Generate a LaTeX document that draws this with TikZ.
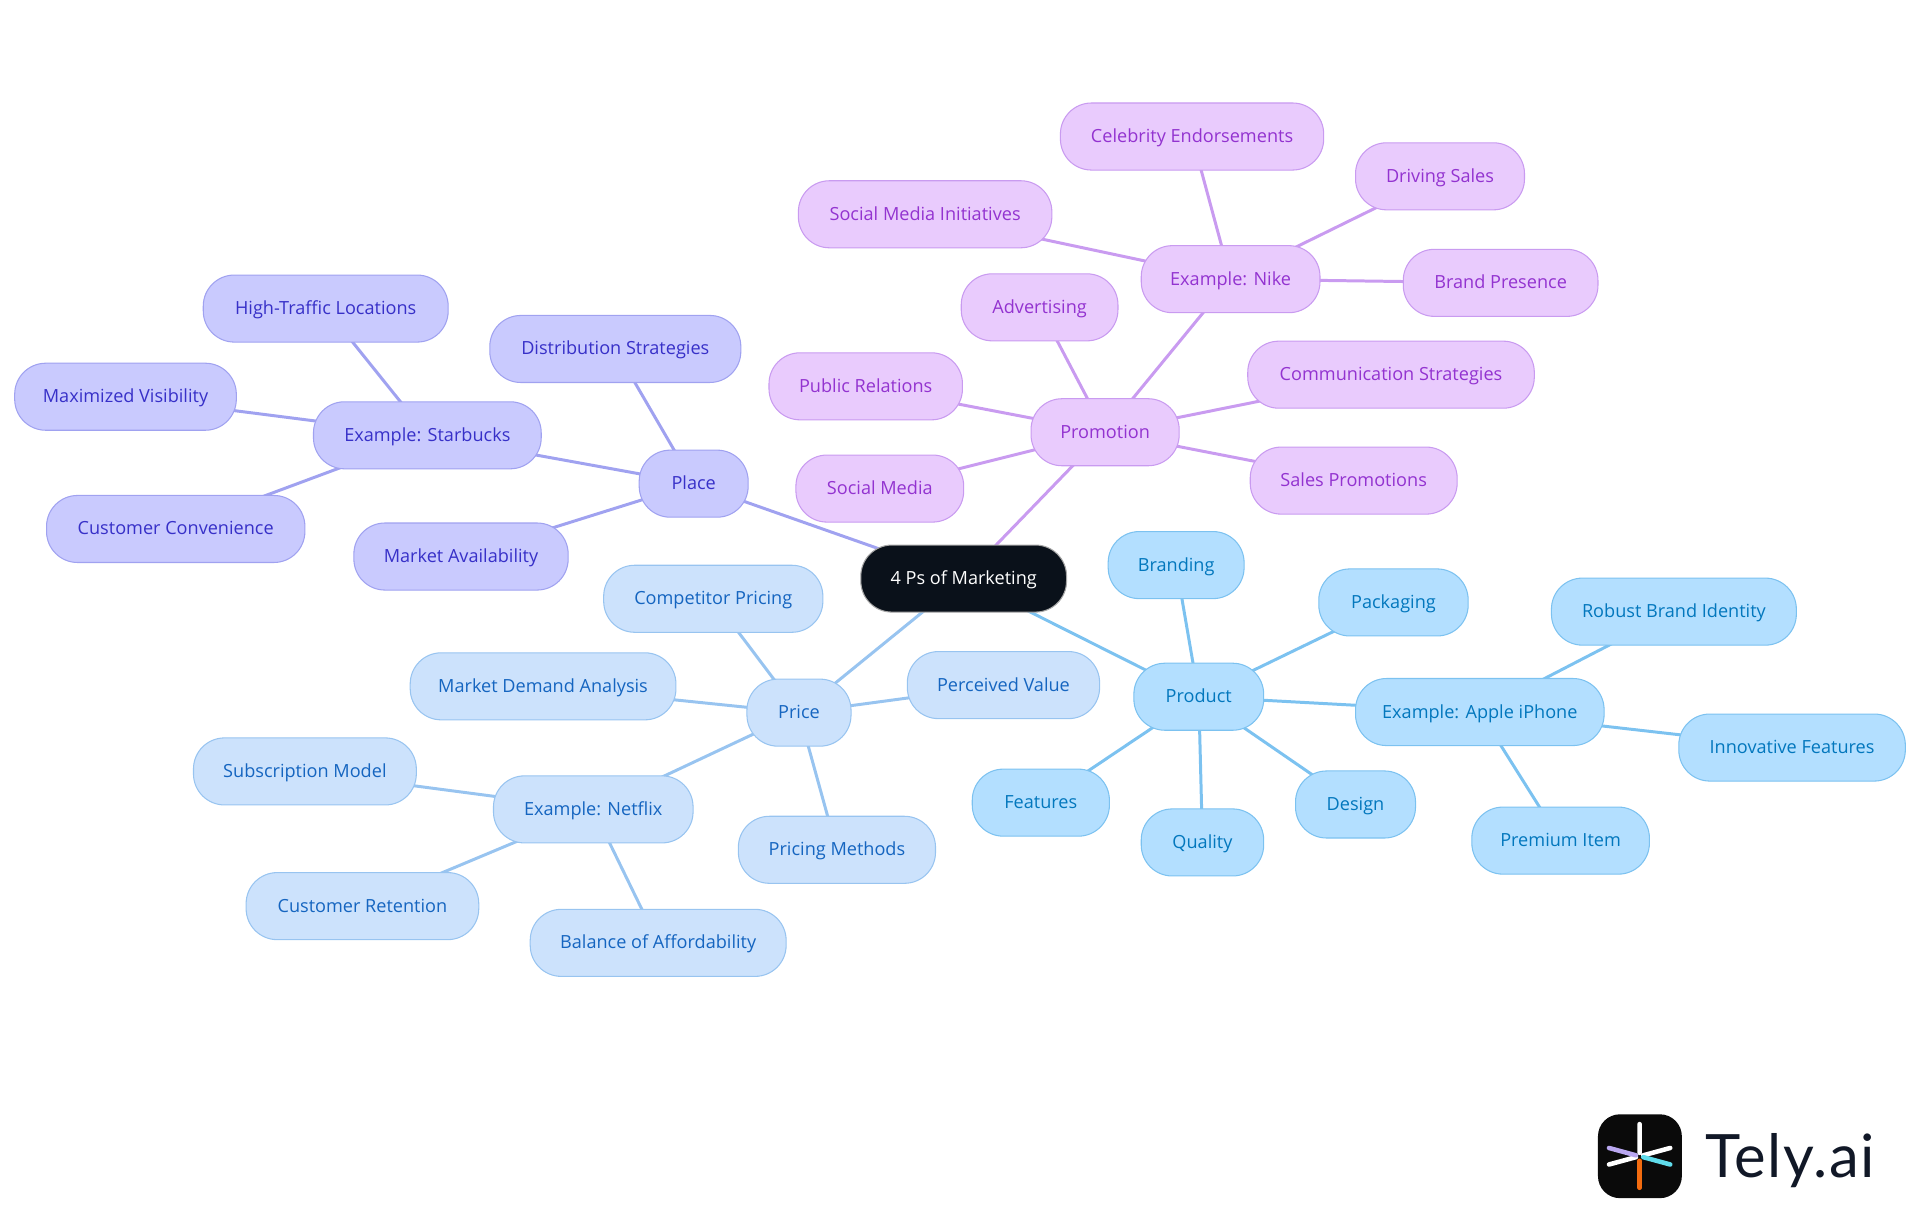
\documentclass[tikz,border=0pt]{standalone}
\usepackage{fontspec}
\setmainfont{Open Sans}
\newfontfamily\logofont[LetterSpace=2.5]{Lato}
\usepackage{xcolor}
\usetikzlibrary{backgrounds}

\definecolor{rootfill}{HTML}{0A111A}
\definecolor{prodfill}{HTML}{B3DFFF}
\definecolor{prodline}{HTML}{7CC2F0}
\definecolor{prodtext}{HTML}{0277BD}
\definecolor{pricefill}{HTML}{CCE2FC}
\definecolor{priceline}{HTML}{98C4F0}
\definecolor{pricetext}{HTML}{1565C0}
\definecolor{placefill}{HTML}{C9CAFE}
\definecolor{placeline}{HTML}{A0A2F0}
\definecolor{placetext}{HTML}{3730C8}
\definecolor{promofill}{HTML}{E9CBFD}
\definecolor{promoline}{HTML}{C99BF0}
\definecolor{promotext}{HTML}{9333D0}
\definecolor{logotext}{HTML}{111827}
\definecolor{logoback}{HTML}{0A0A0A}
\definecolor{logoviolet}{HTML}{B9A7F0}
\definecolor{logocyan}{HTML}{5FDCEB}
\definecolor{logoorange}{HTML}{F26B0F}

\tikzset{
    box/.style={draw, rounded corners=0.31cm, inner xsep=0pt, inner ysep=0pt, line width=0.3pt,
        minimum height=0.67cm, minimum width=#1*0.012245cm, text height=0.16cm, text depth=0.04cm,
        font=\fontsize{5.15}{6}\selectfont},
    rootbox/.style={box=#1, fill=rootfill, draw=gray!70, text=white},
    prodbox/.style={box=#1, fill=prodfill, draw=prodline, text=prodtext},
    pricebox/.style={box=#1, fill=pricefill, draw=priceline, text=pricetext},
    placebox/.style={box=#1, fill=placefill, draw=placeline, text=placetext},
    promobox/.style={box=#1, fill=promofill, draw=promoline, text=promotext},
    link/.style={line width=0.85pt},
    spoke/.style={line width=1.3pt, line cap=round}
}

\begin{document}
\begin{tikzpicture}[x=0.012245cm, y=-0.012245cm]
    \useasboundingbox (0, 0) rectangle (1568, 992);

    \node[rootbox=168] (root) at (787, 472.5) {4 Ps of Marketing};

    % product
    \node[prodbox=106] (product) at (979, 569) {Product};
    \node[prodbox=111] (branding) at (960.5, 461.5) {Branding};
    \node[prodbox=122] (packaging) at (1138, 492) {Packaging};
    \node[prodbox=203] (iphone) at (1208.5, 581.5) {Example: Apple iPhone};
    \node[prodbox=200] (identity) at (1367, 499.5) {Robust Brand Identity};
    \node[prodbox=185] (innovative) at (1463.5, 610.5) {Innovative Features};
    \node[prodbox=145] (premium) at (1274.5, 686.5) {Premium Item};
    \node[prodbox=98] (design) at (1107, 657) {Design};
    \node[prodbox=100] (quality) at (982, 688) {Quality};
    \node[prodbox=112] (features) at (850, 655.5) {Features};

    % price
    \node[pricebox=85] (price) at (652.5, 582) {Price};
    \node[pricebox=157] (perceived) at (819.5, 559.5) {Perceived Value};
    \node[pricebox=179] (competitor) at (582.5, 489) {Competitor Pricing};
    \node[pricebox=217] (demand) at (443.5, 560.5) {Market Demand Analysis};
    \node[pricebox=161] (methods) at (683.5, 694) {Pricing Methods};
    \node[pricebox=163] (netflix) at (484.5, 661) {Example: Netflix};
    \node[pricebox=182] (subscription) at (249, 630) {Subscription Model};
    \node[pricebox=190] (retention) at (296, 740) {Customer Retention};
    \node[pricebox=209] (balance) at (537.5, 770) {Balance of Affordability};

    % place
    \node[placebox=89] (place) at (566.5, 395) {Place};
    \node[placebox=205] (distribution) at (502.5, 285) {Distribution Strategies};
    \node[placebox=175] (availability) at (376.5, 454.5) {Market Availability};
    \node[placebox=186] (starbucks) at (349, 355.5) {Example: Starbucks};
    \node[placebox=200] (locations) at (266, 252) {High-Traffic Locations};
    \node[placebox=181] (visibility) at (102.5, 324) {Maximized Visibility};
    \node[placebox=211] (convenience) at (143.5, 432) {Customer Convenience};

    % promotion
    \node[promobox=121] (promotion) at (902.5, 353) {Promotion};
    \node[promobox=128] (advertising) at (849, 251) {Advertising};
    \node[promobox=158] (relations) at (707, 315.5) {Public Relations};
    \node[promobox=137] (media) at (718.5, 399) {Social Media};
    \node[promobox=234] (communication) at (1136, 306) {Communication Strategies};
    \node[promobox=169] (sales) at (1105.5, 392.5) {Sales Promotions};
    \node[promobox=146] (nike) at (1005, 228) {Example: Nike};
    \node[promobox=215] (celebrity) at (973.5, 111.5) {Celebrity Endorsements};
    \node[promobox=207] (initiatives) at (755.5, 175) {Social Media Initiatives};
    \node[promobox=138] (driving) at (1176, 144) {Driving Sales};
    \node[promobox=159] (presence) at (1225.5, 231) {Brand Presence};

    \begin{scope}[on background layer]
        \foreach \a/\b in {root/product, product/branding, product/packaging, product/iphone, iphone/identity, iphone/innovative, iphone/premium, product/design, product/quality, product/features}
            \draw[link, prodline] (\a.center) -- (\b.center);
        \foreach \a/\b in {root/price, price/perceived, price/competitor, price/demand, price/methods, price/netflix, netflix/subscription, netflix/retention, netflix/balance}
            \draw[link, priceline] (\a.center) -- (\b.center);
        \foreach \a/\b in {root/place, place/distribution, place/availability, place/starbucks, starbucks/locations, starbucks/visibility, starbucks/convenience}
            \draw[link, placeline] (\a.center) -- (\b.center);
        \foreach \a/\b in {root/promotion, promotion/advertising, promotion/relations, promotion/media, promotion/communication, promotion/sales, promotion/nike, nike/celebrity, nike/initiatives, nike/driving, nike/presence}
            \draw[link, promoline] (\a.center) -- (\b.center);
    \end{scope}

    % logo
    \fill[logoback, rounded corners=0.22cm] (1305, 910) rectangle (1373.5, 978.5);
    \draw[spoke, white]
    (1339, 941.5) -- (1339, 918)
    (1336, 945) -- (1314, 951)
    (1342, 943.5) -- (1364, 937.5);
    \draw[spoke, logoorange] (1339, 948) -- (1339, 970);
    \draw[spoke, logoviolet] (1336, 943.5) -- (1314, 937.5);
    \draw[spoke, logocyan] (1342, 945) -- (1364, 951);
    \node[anchor=base west, inner sep=0pt, text=logotext, font=\logofont\fontsize{17}{20}\selectfont] (logo) at (1392, 962) {Tely.ai};
\end{tikzpicture}
\end{document}
